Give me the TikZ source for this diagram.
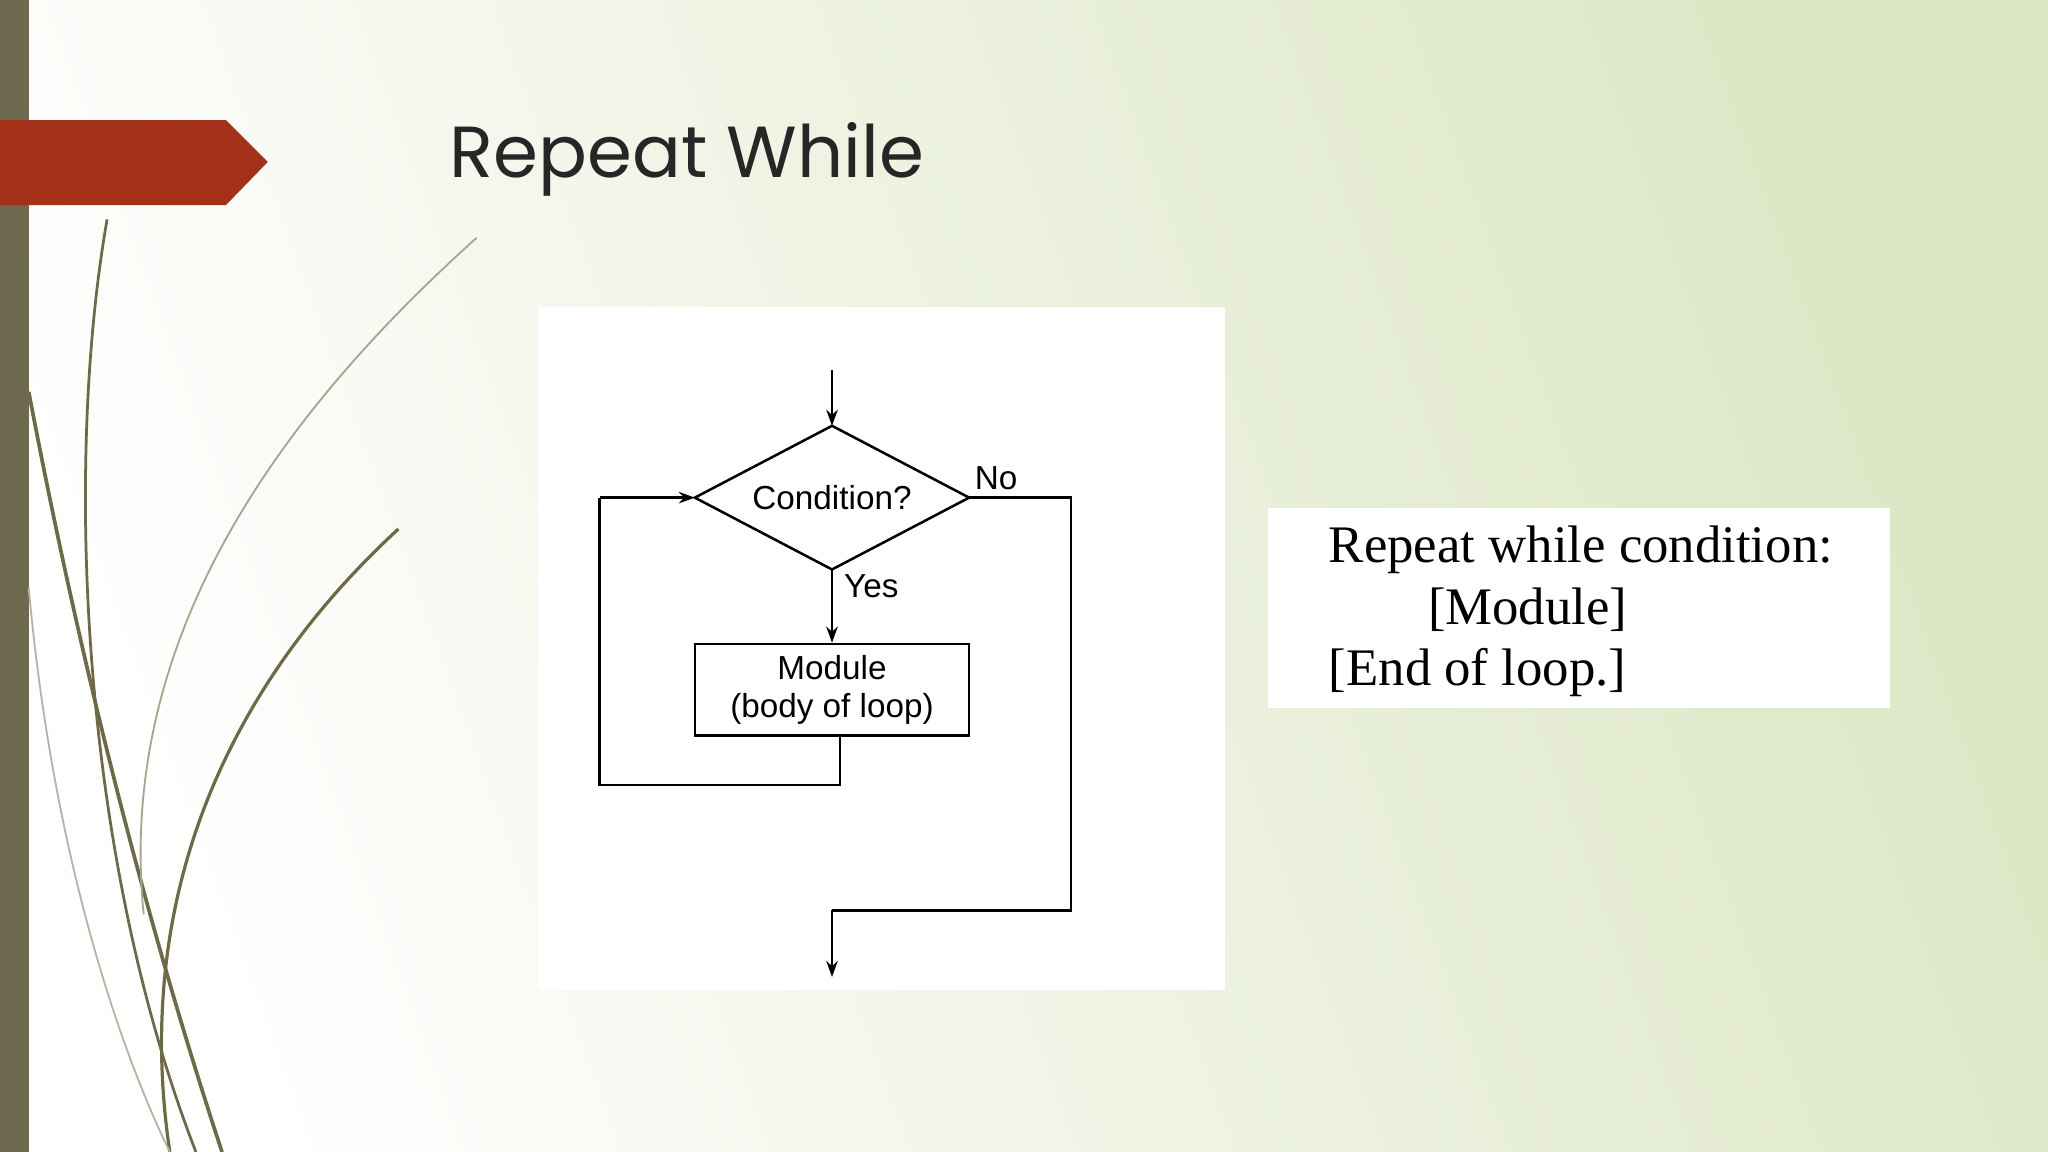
\documentclass[tikz,border=0pt]{standalone}
\usepackage{fontspec}
\setmainfont{Liberation Sans}
\newfontfamily\titlefont{Poppins}
\newfontfamily\serifx{Liberation Serif}
\usetikzlibrary{arrows.meta}
\definecolor{bgR}{HTML}{DCE6C4}
\definecolor{olive}{HTML}{6F6A4F}
\definecolor{redtab}{HTML}{A5301A}
\definecolor{curve}{HTML}{6E6A45}
\begin{document}
\begin{tikzpicture}[x=0.02cm,y=-0.02cm,
  fl/.style={line width=1.1pt,black},
  arr/.style={fl,-{Stealth[length=7pt,width=5pt]}},
  txt/.style={font=\fontsize{14.5}{16.5}\selectfont,inner sep=0pt,align=center}]
\shade[left color=white,right color=bgR,shading angle=110] (0,0) rectangle (1568,882);
\useasboundingbox (0,0) rectangle (1568,882);
\fill[olive] (0,0) rectangle (22,882);
\fill[redtab] (0,92) -- (173,92) -- (205,124) -- (173,157) -- (0,157) -- cycle;
\node[anchor=west,inner sep=0pt,font=\titlefont\fontsize{31.5}{36}\selectfont,text=black!85] (title) at (344,122) {Repeat While};
% decorative curves
\draw[curve,line width=1.2pt] (82,168) .. controls (50,350) and (60,650) .. (150,882);
\draw[curve,line width=1.6pt] (22,300) .. controls (60,500) and (110,700) .. (170,882);
\draw[curve!60,line width=0.8pt] (365,182) .. controls (200,330) and (90,500) .. (110,700);
\draw[curve,line width=1.4pt] (305,405) .. controls (180,520) and (100,680) .. (130,882);
\draw[curve!50,line width=0.8pt] (22,450) .. controls (40,650) and (90,800) .. (130,882);
% flowchart panel
\fill[white] (412,235) rectangle (938,758);
\coordinate (top) at (637,283);
\coordinate (dt) at (637,326); \coordinate (dl) at (532,381);
\coordinate (dr) at (742,381); \coordinate (db) at (637,436);
\draw[fl] (dt) -- (dr) -- (db) -- (dl) -- cycle;
\node[txt] (cond) at (637,381) {Condition?};
\node[draw,fl,minimum width=4.2cm,minimum height=1.4cm,txt] (mod) at (637,528) {Module\\(body of loop)};
\draw[arr] (top) -- (dt);
\draw[arr] (db) -- (mod.north);
\node[txt,anchor=west] (yes) at (646,449) {Yes};
\coordinate (lb) at (643,563);
\coordinate (l1) at (643,601); \coordinate (l2) at (459,601); \coordinate (l3) at (459,381);
\draw[fl] (lb) -- (l1) -- (l2) -- (l3);
\draw[arr] (l3) -- (dl);
\coordinate (n1) at (820,381); \coordinate (n2) at (820,697); \coordinate (n3) at (637,697);
\coordinate (out) at (637,748);
\draw[fl] (dr) -- (n1) -- (n2) -- (n3);
\draw[arr] (n3) -- (out);
\node[txt,anchor=west] (no) at (746,366) {No};
% text panel
\fill[white] (971,389) rectangle (1447,542);
\node[anchor=west,inner sep=0pt,font=\serifx\fontsize{23}{26}\selectfont] (t1) at (1017,421) {Repeat while condition:};
\node[anchor=west,inner sep=0pt,font=\serifx\fontsize{23}{26}\selectfont] (t2) at (1093,467) {[Module]};
\node[anchor=west,inner sep=0pt,font=\serifx\fontsize{23}{26}\selectfont] (t3) at (1017,515) {[End of loop.]};
\end{tikzpicture}
\end{document}
